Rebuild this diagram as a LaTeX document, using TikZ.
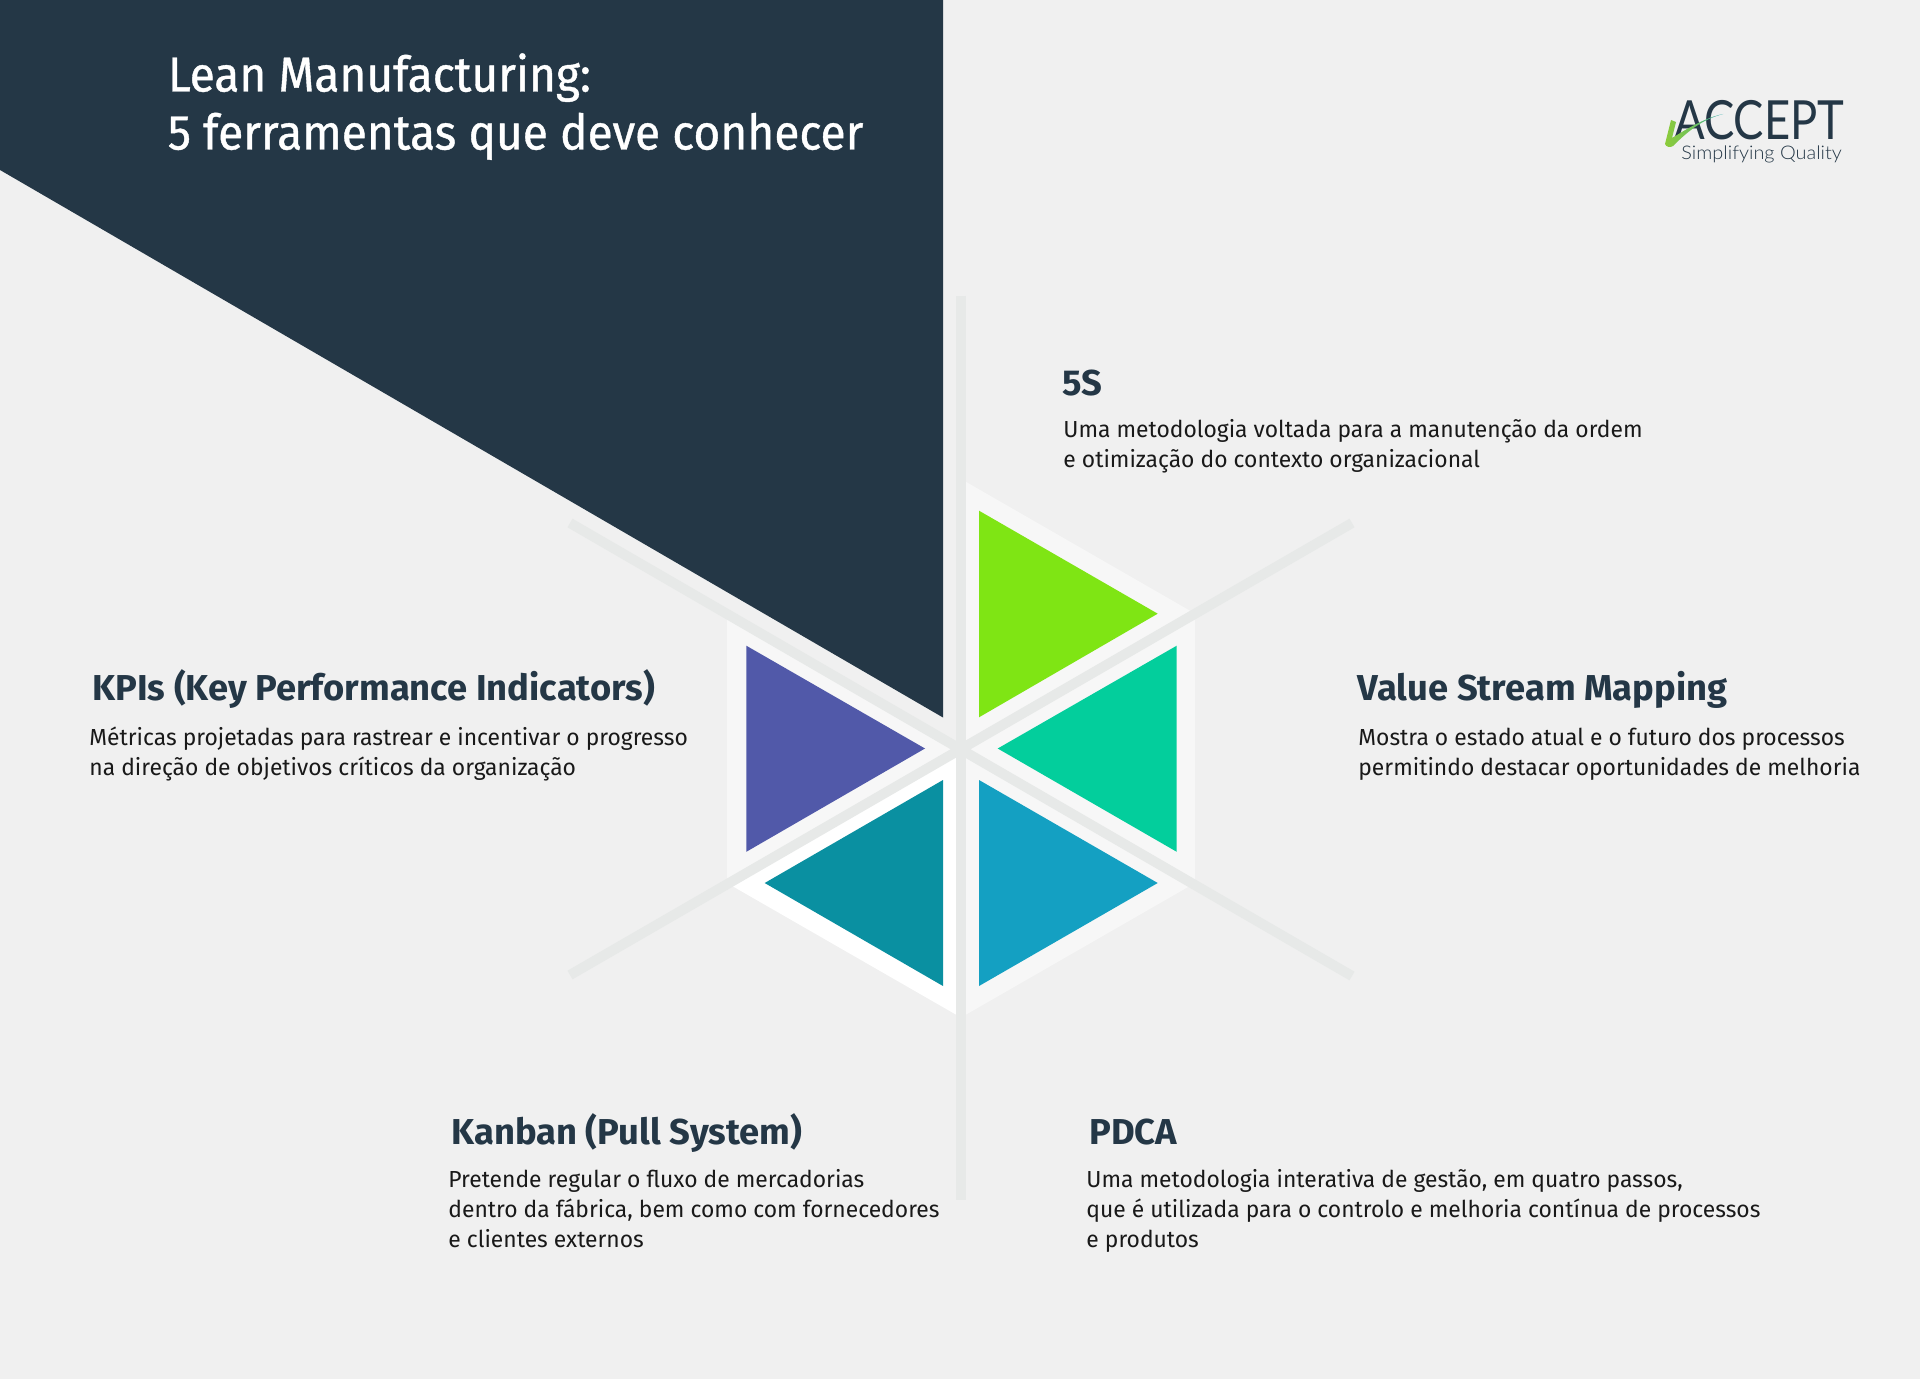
\documentclass[tikz,border=0pt]{standalone}
\usepackage{fontspec}
\setmainfont{Fira Sans}
\newfontfamily\logofont[FakeStretch=0.84]{Lato}
\newfontfamily\logosubfont[FakeStretch=1.06]{Lato Light}
\definecolor{bgc}{HTML}{F0F0F0}
\definecolor{darkc}{HTML}{243746}
\definecolor{padc}{HTML}{F7F7F7}
\definecolor{linec}{HTML}{E7E9E8}
\definecolor{greenc}{HTML}{7FE514}
\definecolor{mintc}{HTML}{03CE9C}
\definecolor{bluec}{HTML}{14A0C2}
\definecolor{tealc}{HTML}{0A90A1}
\definecolor{purplec}{HTML}{5159A9}
\definecolor{logogreen}{HTML}{8CCB3A}
\definecolor{logoteal}{HTML}{2AA9B0}
\tikzset{
  axisline/.style={draw=linec,line width=5pt},
  titletext/.style={anchor=base west,inner sep=0pt,text=white,align=left,font=\fontsize{24.5}{29}\selectfont\addfontfeature{FakeStretch=0.94,FakeBold=0.8}},
  headtext/.style={anchor=base west,inner sep=0pt,text=darkc,font=\fontsize{18}{22}\bfseries\selectfont\addfontfeature{FakeStretch=1.01}},
  bodytext/.style={anchor=base west,inner sep=0pt,text=black!90,align=left,font=\fontsize{11.6}{15}\selectfont\addfontfeature{FakeStretch=0.985}}
}
\begin{document}
\begin{tikzpicture}[x=0.5pt,y=-0.5pt]
\useasboundingbox (0,0) rectangle (1920,1379);
\fill[bgc] (0,0) rectangle (1920,1379);
\fill[darkc] (0,0) -- (943,0) -- (943,717.5) -- (0,170) -- cycle;
% hexagon pads
\coordinate (c) at (961,748.3);
\fill[padc] (c) -- (961,479) -- (1195,613.6) -- cycle;
\fill[padc] (c) -- (1195,613.6) -- (1195,883) -- cycle;
\fill[padc] (c) -- (1195,883) -- (961,1017.5) -- cycle;
\fill[white] (c) -- (961,1017.5) -- (727,883) -- cycle;
\fill[padc] (c) -- (727,883) -- (727,613.6) -- cycle;
% axis lines
\coordinate (v1) at (961,296);
\coordinate (v2) at (961,1200);
\coordinate (d1) at (570,523);
\coordinate (d2) at (1352,976);
\coordinate (d3) at (570,975);
\coordinate (d4) at (1352,523);
\draw[axisline] (v1) -- (v2);
\draw[axisline] (d1) -- (d2);
\draw[axisline] (d3) -- (d4);
% triangles
\fill[greenc] (979,510.7) -- (1157.7,613.7) -- (979,717.3) -- cycle;
\fill[mintc] (1176.7,645.7) -- (997.7,748.5) -- (1176.7,851.8) -- cycle;
\fill[bluec] (979,780) -- (1157.7,883) -- (979,986) -- cycle;
\fill[tealc] (943,780) -- (764.7,883) -- (943,986) -- cycle;
\fill[purplec] (746.3,645.7) -- (925,748.5) -- (746.3,851.8) -- cycle;
% title
\node[titletext] (title) at (167.5,149.5) {Lean Manufacturing:\\5 ferramentas que deve conhecer};
% logo
\node[anchor=base west,inner sep=0pt,text=darkc] (logo) at (1674,140) {\logofont\fontsize{27}{30}\selectfont ACCEPT};
\node[anchor=base west,inner sep=0pt,text=darkc] (logosub) at (1681,160) {\logosubfont\fontsize{9.4}{11}\selectfont Simplifying Quality};
\shade[left color=logogreen,right color=logoteal,middle color=logogreen!70!logoteal] (1671,120) -- (1676,122) -- (1672,138) .. controls (1690,127) and (1705,118) .. (1723,114) .. controls (1705,119) and (1692,127) .. (1673,146) .. controls (1670,148) and (1666,147) .. (1665,144) -- cycle;
% items
\node[headtext] (h5s) at (1062,396) {5S};
\node[bodytext] (b5s) at (1063,467.5) {Uma metodologia voltada para a manutenção da ordem\\e otimização do contexto organizacional};
\node[headtext] (hvsm) at (1357.5,700.5) {Value Stream Mapping};
\node[bodytext] (bvsm) at (1358,775.5) {Mostra o estado atual e o futuro dos processos\\permitindo destacar oportunidades de melhoria};
\node[headtext] (hkpi) at (92,700.5) {KPIs (Key Performance Indicators)};
\node[bodytext] (bkpi) at (89,775.5) {Métricas projetadas para rastrear e incentivar o progresso\\na direção de objetivos críticos da organização};
\node[headtext] (hkan) at (451,1144) {Kanban (Pull System)};
\node[bodytext] (bkan) at (448,1247) {Pretende regular o fluxo de mercadorias\\dentro da fábrica, bem como com fornecedores\\e clientes externos};
\node[headtext] (hpdca) at (1089,1144) {PDCA};
\node[bodytext] (bpdca) at (1086,1247) {Uma metodologia interativa de gestão, em quatro passos,\\que é utilizada para o controlo e melhoria contínua de processos\\e produtos};
\end{tikzpicture}
\end{document}
